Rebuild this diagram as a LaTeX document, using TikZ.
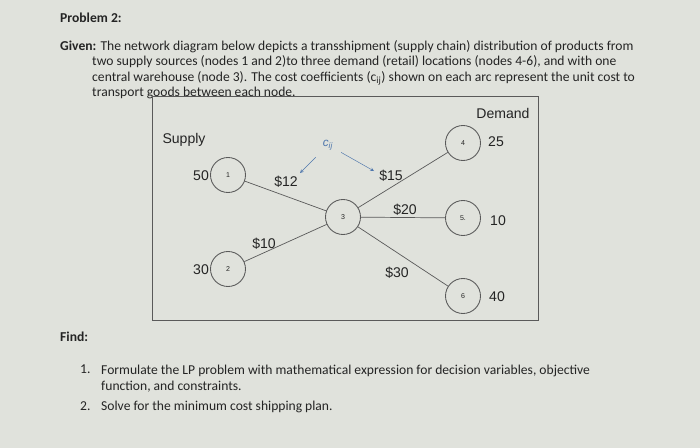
\documentclass[tikz,border=0pt]{standalone}
\usepackage{fontspec}
\setmainfont{Carlito}
\newfontfamily\diagfont{Liberation Sans}
\usepackage{tikz}
\usetikzlibrary{arrows,positioning}
\usepackage{xcolor}
\definecolor{pgbg}{RGB}{224,226,220}
\definecolor{pgtext}{RGB}{36,36,36}
\definecolor{pgline}{RGB}{90,90,90}
\definecolor{pgblue}{RGB}{78,118,172}
\tikzstyle{hub} = [circle, draw=pgline, line width=0.75pt, minimum size=1.05cm, inner sep=0pt, text=pgtext, font=\diagfont\fontsize{6}{7}\selectfont]
\tikzstyle{arc} = [draw=pgline, line width=0.6pt]
\tikzstyle{amount} = [text=pgtext, inner sep=1pt, font=\diagfont\fontsize{12}{14}\selectfont]
\tikzstyle{hint} = [->, >=stealth, color=pgblue, line width=0.4pt]
\tikzstyle{prose} = [anchor=west, inner sep=0pt, text=pgtext, align=left, font=\fontsize{11.6}{13.3}\selectfont]

\begin{document}
\begin{tikzpicture}[x=0.03cm, y=-0.03cm]
\useasboundingbox (0,0) rectangle (700,448);
\fill[pgbg] (0,0) rectangle (700,448);

% Problem statement
\node (title) [prose] at (60,18) {\textbf{Problem 2:}};
\node (given) [prose, anchor=north west] at (60,40) {\textbf{Given:} The network diagram below depicts a transshipment (supply chain) distribution of products from\\
\hspace*{0.96cm}two supply sources (nodes 1 and 2)to three demand (retail) locations (nodes 4-6), and with one\\
\hspace*{0.96cm}central warehouse (node 3). The cost coefficients (c\textsubscript{ij}) shown on each arc represent the unit cost to\\
\hspace*{0.96cm}transport goods between each node.};

% Network
\draw[pgline, line width=0.7pt] (152,96) rectangle (538,320);
\node (n1) [hub] at (228,175) {1};
\node (n2) [hub] at (228,269) {2};
\node (n3) [hub] at (343,217) {3};
\node (n4) [hub] at (463,143) {4};
\node (n5) [hub] at (463,218) {5.};
\node (n6) [hub] at (463,296) {6};

\draw[arc] (n1) -- (n3);
\draw[arc] (n2) -- (n3);
\draw[arc] (n3) -- (n4);
\draw[arc] (n3) -- (n5);
\draw[arc] (n3) -- (n6);

\node (supply) [amount] at (184,140) {Supply};
\node (demand) [amount] at (503,113) {Demand};
\node (s1) [amount] at (201,176) {50};
\node (s2) [amount] at (201,270) {30};
\node (d4) [amount] at (496,142) {25};
\node (d5) [amount] at (498,221) {10};
\node (d6) [amount] at (497,297) {40};

\node (c13) [amount] at (286,182) {\$12};
\node (c23) [amount] at (264,244) {\$10};
\node (c34) [amount] at (391,176) {\$15};
\node (c35) [amount] at (405,210) {\$20};
\node (c36) [amount] at (397,273) {\$30};

\node (cij) [text=pgblue, inner sep=4pt, font=\diagfont\fontsize{10}{11}\selectfont] at (328,145) {\textit{c}\textsubscript{\textit{ij}}};
\coordinate (tipL) at (300,173);
\coordinate (tipR) at (374,171);
\draw[hint, shorten <=3pt] (cij) -- (tipL);
\draw[hint, shorten <=3pt] (cij) -- (tipR);

% Questions
\node (find) [prose] at (60,337) {\textbf{Find:}};
\node (q1num) [prose, anchor=north west] at (80,365) {1.};
\node (q1) [prose, anchor=north west] at (101,365) {Formulate the LP problem with mathematical expression for decision variables, objective\\
function, and constraints.};
\node (q2num) [prose, anchor=north west] at (80,401) {2.};
\node (q2) [prose, anchor=north west] at (101,401) {Solve for the minimum cost shipping plan.};
\end{tikzpicture}
\end{document}
